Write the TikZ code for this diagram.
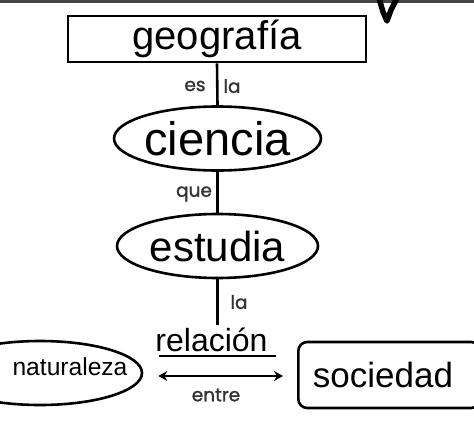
\documentclass[tikz,border=0pt]{standalone}
\usepackage{fontspec}
\setmainfont{Liberation Sans}
\newfontfamily\lblfont[FakeBold=1.3]{Poppins}
\usetikzlibrary{shapes.geometric,arrows.meta}
\definecolor{lbl}{HTML}{333333}
\definecolor{bar}{HTML}{444444}
\tikzset{
  line/.style={line width=2.6pt},
  bigtext/.style={inner sep=0pt},
  oval/.style={draw, line width=2.6pt, ellipse, inner sep=0pt},
  linklabel/.style={font=\lblfont\fontsize{18.5}{18.5}\selectfont, text=lbl, inner sep=0pt},
}
\begin{document}
\begin{tikzpicture}[x=1pt,y=-1pt]
\clip (0,0) rectangle (474,431);
\fill[white] (0,0) rectangle (474,431);
\fill[bar] (0,0) rectangle (474,3);
% check mark
\draw[line width=5.5pt, line cap=round, line join=round] (379,-2) -- (383,12) -- (387,21) -- (391,10) -- (397,-2);
% nodes
\node[draw, line width=2.6pt, minimum width=298pt, minimum height=46pt, inner sep=0pt,
      font=\fontsize{40}{40}\selectfont] (geo) at (217,39) {geografía};
\node[oval, minimum width=201pt, minimum height=64pt, font=\fontsize{47}{47}\selectfont] (cie) at (217.5,138.5) {ciencia};
\node[oval, minimum width=201pt, minimum height=64pt, font=\fontsize{42}{42}\selectfont] (est) at (217.5,246) {estudia};
\node[bigtext, anchor=base, font=\fontsize{32}{32}\selectfont] (rel) at (211.5,351) {relación};
\coordinate (relt) at (217.5,325);
\coordinate (ula) at (159,356);
\coordinate (ulb) at (276,356);
\node[oval, minimum width=204pt, minimum height=64pt] (nat) at (40,373) {};
\node[bigtext, font=\fontsize{24.6}{24.6}\selectfont] (natt) at (70,367) {naturaleza};
\node[draw, line width=2.6pt, rounded corners=9pt, minimum width=182pt, minimum height=66pt, inner sep=0pt,
      anchor=west] (soc) at (297,375) {};
\node[bigtext, font=\fontsize{35}{35}\selectfont] (soct) at (383,375) {sociedad};
% connectors
\draw[line] (geo.south) -- (cie.north);
\draw[line] (cie.south) -- (est.north);
\draw[line] (est.south) -- (relt);
\draw[line width=1.6pt] (ula) -- (ulb);
\draw[line width=2.2pt, {Stealth[length=9pt,width=10pt]}-{Stealth[length=9pt,width=10pt]}, shorten <=15pt, shorten >=14pt]
  (nat.east |- 0,376) -- (soc.west |- 0,376);
% link labels
\node[linklabel] (l1) at (195,86) {es};
\node[linklabel] (l2) at (232,86) {la};
\node[linklabel] (l3) at (194,194) {que};
\node[linklabel] (l4) at (239,302) {la};
\node[linklabel] (l5) at (216,395) {entre};
\end{tikzpicture}
\end{document}
